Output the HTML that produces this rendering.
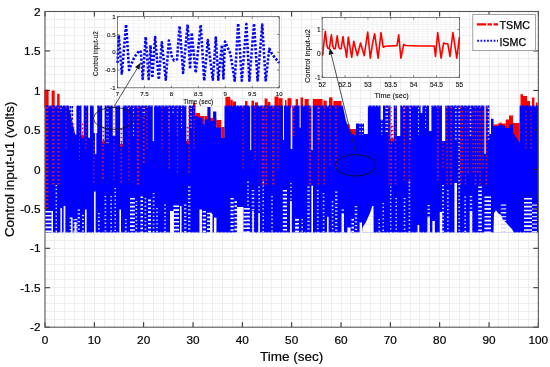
<!DOCTYPE html>
<html><head><meta charset="utf-8"><title>Control input</title>
<style>html,body{margin:0;padding:0;background:#fff;}svg{display:block;}</style>
</head><body>
<svg width="550" height="367" viewBox="0 0 550 367">
<rect width="550" height="367" fill="#fff"/>
<path d="M54.87 11.5V327.2M64.73 11.5V327.2M74.6 11.5V327.2M84.47 11.5V327.2M94.34 11.5V327.2M104.2 11.5V327.2M114.07 11.5V327.2M123.94 11.5V327.2M133.8 11.5V327.2M143.67 11.5V327.2M153.54 11.5V327.2M163.4 11.5V327.2M173.27 11.5V327.2M183.14 11.5V327.2M193 11.5V327.2M202.87 11.5V327.2M212.74 11.5V327.2M222.61 11.5V327.2M232.47 11.5V327.2M242.34 11.5V327.2M252.21 11.5V327.2M262.07 11.5V327.2M271.94 11.5V327.2M281.81 11.5V327.2M291.68 11.5V327.2M301.54 11.5V327.2M311.41 11.5V327.2M321.28 11.5V327.2M331.14 11.5V327.2M341.01 11.5V327.2M350.88 11.5V327.2M360.74 11.5V327.2M370.61 11.5V327.2M380.48 11.5V327.2M390.35 11.5V327.2M400.21 11.5V327.2M410.08 11.5V327.2M419.95 11.5V327.2M429.81 11.5V327.2M439.68 11.5V327.2M449.55 11.5V327.2M459.41 11.5V327.2M469.28 11.5V327.2M479.15 11.5V327.2M489.01 11.5V327.2M498.88 11.5V327.2M508.75 11.5V327.2M518.62 11.5V327.2M528.48 11.5V327.2M45 319.31H538.35M45 311.41H538.35M45 303.52H538.35M45 295.63H538.35M45 287.74H538.35M45 279.84H538.35M45 271.95H538.35M45 264.06H538.35M45 256.17H538.35M45 248.27H538.35M45 240.38H538.35M45 232.49H538.35M45 224.6H538.35M45 216.7H538.35M45 208.81H538.35M45 200.92H538.35M45 193.03H538.35M45 185.13H538.35M45 177.24H538.35M45 169.35H538.35M45 161.46H538.35M45 153.56H538.35M45 145.67H538.35M45 137.78H538.35M45 129.89H538.35M45 121.99H538.35M45 114.1H538.35M45 106.21H538.35M45 98.32H538.35M45 90.43H538.35M45 82.53H538.35M45 74.64H538.35M45 66.75H538.35M45 58.86H538.35M45 50.96H538.35M45 43.07H538.35M45 35.18H538.35M45 27.29H538.35M45 19.39H538.35" stroke="#ececec" stroke-width="0.9" fill="none" shape-rendering="crispEdges"/>
<g fill="#f00"><rect x="44.3" y="89.7" width="4.3" height="17.9"/><rect x="51.6" y="90.5" width="3.1" height="17.1"/><rect x="57.1" y="93.8" width="2.5" height="13.8"/><rect x="193" y="103" width="2.4" height="4.6"/><rect x="225.4" y="96.8" width="4.9" height="10.8"/><rect x="230.3" y="99.8" width="2.4" height="7.8"/><rect x="232.7" y="101.5" width="3.3" height="6.1"/><rect x="245" y="101" width="2.5" height="6.6"/><rect x="251.5" y="100.6" width="2.5" height="7"/><rect x="255" y="102.3" width="3" height="5.3"/><rect x="264.6" y="98.5" width="2.9" height="9.1"/><rect x="267.5" y="102" width="2.9" height="5.6"/><rect x="274.5" y="96.5" width="4" height="11.1"/><rect x="278.5" y="98.2" width="4.1" height="9.4"/><rect x="285" y="100" width="1.5" height="7.6"/><rect x="287.5" y="98.2" width="4" height="9.4"/><rect x="295.6" y="99" width="2.4" height="8.6"/><rect x="300.5" y="97.4" width="2.5" height="10.2"/><rect x="304.6" y="99" width="4.1" height="8.6"/><rect x="312.8" y="99" width="9.8" height="8.6"/><rect x="323.5" y="100.6" width="3.2" height="7"/><rect x="329" y="97.4" width="3.5" height="10.2"/><rect x="333.3" y="101" width="8.2" height="6.6"/><rect x="520.5" y="94.2" width="2.5" height="13.4"/><rect x="523" y="96" width="4" height="11.6"/><rect x="527" y="101" width="3" height="6.6"/><rect x="532" y="97.5" width="2.4" height="10.1"/><rect x="536" y="102.4" width="1.6" height="5.2"/><rect x="195.5" y="113" width="4.5" height="5"/><rect x="200" y="116" width="4.4" height="10"/><rect x="204.5" y="116" width="2.9" height="5"/><rect x="209.5" y="117.8" width="3.5" height="9.2"/><rect x="213.1" y="118" width="3.3" height="8"/><rect x="216.4" y="120" width="4.9" height="15"/><rect x="221.3" y="127" width="3.2" height="18"/><rect x="195.5" y="116" width="3.5" height="6"/><rect x="346.5" y="124" width="3" height="14"/><rect x="349.5" y="129" width="7.7" height="13"/><rect x="493.6" y="124.5" width="3.9" height="3.5"/><rect x="497.5" y="123.5" width="8.2" height="3.5"/><rect x="499.5" y="122.5" width="2" height="2.5"/><rect x="505.7" y="119.5" width="3.3" height="10.5"/><rect x="509" y="115.5" width="4" height="12.5"/><rect x="513" y="123" width="6.6" height="19.5"/></g><g stroke="#f00" stroke-dasharray="1.6 2.4" fill="none"><path d="M82.6 123.54V135.5" stroke-width="1.4"/><path d="M103.4 126.84V141" stroke-width="1.6"/><path d="M107.5 106.6V148" stroke-width="1.4"/><path d="M121.4 128.64V144" stroke-width="1.7"/><path d="M143.7 106.6V120" stroke-width="1.9"/><path d="M169.2 106.6V135" stroke-width="1"/><path d="M177.5 106.6V141" stroke-width="1"/><path d="M187.6 126.84V141" stroke-width="1.6"/><path d="M191.2 106.6V132" stroke-width="1"/><path d="M318.5 106.6V144" stroke-width="1"/><path d="M392.1 125.64V139" stroke-width="2.4"/><path d="M404.3 106.6V132" stroke-width="1.1"/></g><mask id="bm" maskUnits="userSpaceOnUse" x="0" y="0" width="550" height="367"><polygon fill="#fff" points="45,105.6 195.4,105.6 195.5,116 198,116.5 200,117.8 202.5,117.8 202.6,124.5 204.4,124.5 204.5,119.5 207.3,119.5 207.4,107 210.5,107 210.6,121 213,121 213.1,111.5 216.3,111.5 216.4,127.6 221.2,127.6 221.3,138 224.4,138 224.5,105.6 342.8,105.6 345.7,119.5 347.7,126.3 350.4,131.8 352,133.5 355.9,136 356,123.6 364,123.6 364.1,134 367.8,134 367.9,105.6 491,105.6 491.1,118.7 493.5,118.7 493.6,126 497.5,126 500,124.5 505.7,126 505.8,128 509,128 509.1,125 513,124 513.1,132.6 519.5,142.5 519.6,105.6 538.4,105.6 538.4,232.6 45,232.6"/><g fill="#000"><rect x="81.5" y="104.6" width="2.2" height="30.9"/><rect x="88.25" y="104.6" width="1.7" height="33.2"/><rect x="93.75" y="104.6" width="3.5" height="28.4"/><rect x="95.05" y="104.6" width="1.3" height="49.4"/><rect x="102.2" y="104.6" width="2.4" height="36.4"/><rect x="112.75" y="104.6" width="2.5" height="31.4"/><rect x="120.15" y="104.6" width="2.5" height="39.4"/><rect x="152.75" y="104.6" width="1.3" height="36.4"/><rect x="186.4" y="104.6" width="2.4" height="36.4"/><rect x="250.2" y="104.6" width="1" height="45.4"/><rect x="283" y="104.6" width="1" height="35.4"/><rect x="290.7" y="104.6" width="1.6" height="44.4"/><rect x="299.6" y="104.6" width="1" height="23"/><rect x="311.35" y="104.6" width="1.3" height="45.4"/><rect x="380.6" y="104.6" width="2.4" height="14.9"/><rect x="390.5" y="104.6" width="3.2" height="34.4"/><rect x="396.95" y="104.6" width="3.3" height="31.4"/><rect x="420.65" y="104.6" width="1.7" height="8.4"/><rect x="429" y="104.6" width="2.4" height="26.4"/><rect x="441.95" y="104.6" width="3.3" height="36.4"/><rect x="484.45" y="104.6" width="1.3" height="49.4"/><rect x="489.4" y="104.6" width="1.6" height="29.4"/><rect x="51.45" y="211" width="1.5" height="22.6"/><rect x="60.45" y="208" width="1.5" height="25.6"/><rect x="63.65" y="206" width="1.7" height="27.6"/><rect x="71.05" y="217.6" width="1.5" height="16"/><rect x="74.5" y="222" width="2" height="11.6"/><rect x="85" y="209.5" width="1.6" height="24.1"/><rect x="94" y="191.5" width="1.6" height="42.1"/><rect x="119.4" y="209.5" width="1.6" height="24.1"/><rect x="170" y="211" width="4" height="22.6"/><rect x="180.05" y="206" width="1.5" height="27.6"/><rect x="199.45" y="209.5" width="2.5" height="24.1"/><rect x="210.05" y="214" width="2.5" height="19.6"/><rect x="213.95" y="217.6" width="2.5" height="16"/><rect x="236.95" y="207" width="6.5" height="26.6"/><rect x="252.2" y="211" width="1.6" height="22.6"/><rect x="258.25" y="214" width="1.7" height="19.6"/><rect x="290" y="201" width="1.8" height="32.6"/><rect x="311.4" y="185.7" width="1.6" height="47.9"/><rect x="327" y="216.8" width="1.6" height="16.8"/><rect x="341.6" y="214" width="2.4" height="19.6"/><rect x="347.4" y="227.5" width="3.2" height="6.1"/><rect x="359.6" y="222.5" width="2.4" height="11.1"/><rect x="417.55" y="225" width="1.7" height="8.6"/><rect x="427.45" y="217.6" width="2.5" height="16"/><rect x="432.4" y="221" width="2.4" height="12.6"/><rect x="439.75" y="212" width="2.5" height="21.6"/><rect x="454.45" y="183" width="2.5" height="50.6"/><rect x="469.75" y="211" width="2.5" height="22.6"/><polygon points="362,232.8 362.5,227.5 366,222 370,213 372.3,206 373.5,206 373.6,232.8"/><polygon points="493.5,232.8 494,213 496,210.3 498,213 499.3,214 501,215 503,220 506,222.5 509,226 512,229 514,232.8"/><polygon points="68.9,105 68.9,107 71,116 73,124 74.5,131 75.2,134.5 76.4,134.5 76.4,105"/></g><g stroke="#222" fill="none" stroke-dasharray="1.3 2.5"><path d="M61 107.8V112" stroke-width="1"/><path d="M107.5 107.8V144" stroke-width="2"/><path d="M128.5 107.8V111" stroke-width="1"/><path d="M133.5 107.8V136" stroke-width="1.2"/><path d="M143.7 107.8V116" stroke-width="2.5"/><path d="M169.2 107.8V131" stroke-width="1.5"/><path d="M173.2 107.8V113" stroke-width="1.2"/><path d="M177.5 107.8V137" stroke-width="1.2"/><path d="M181.5 107.8V130" stroke-width="1"/><path d="M191.2 107.8V128" stroke-width="1.5"/><path d="M318.5 107.8V140" stroke-width="1.6"/><path d="M360 107.8V135" stroke-width="1.4"/><path d="M362.5 107.8V135" stroke-width="1.4"/><path d="M381.8 107.8V135" stroke-width="1.4"/><path d="M386.7 107.8V132.6" stroke-width="2.5"/><path d="M404.3 107.8V128" stroke-width="1.7"/><path d="M410.1 107.8V141" stroke-width="1.7"/><path d="M418.5 107.8V135" stroke-width="1.2"/><path d="M425.6 107.8V130" stroke-width="1"/><path d="M455.8 107.8V140" stroke-width="1.7"/><path d="M459.2 107.8V232" stroke-width="1.7"/><path d="M470.5 107.8V136" stroke-width="1.7"/><path d="M488.5 107.8V140" stroke-width="1.7"/><path d="M56.3 185V233.6" stroke-width="1.5"/><path d="M70.7 217.6V233.6" stroke-width="2.2"/><path d="M75.5 219V233.6" stroke-width="4"/><path d="M78.8 209.5V233.6" stroke-width="2.4"/><path d="M83 215V233.6" stroke-width="2"/><path d="M98.8 213V233.6" stroke-width="1.7"/><path d="M105.4 196V233.6" stroke-width="1.7"/><path d="M111.2 196V233.6" stroke-width="1.6"/><path d="M115.2 188V233.6" stroke-width="1.6"/><path d="M125.8 219V233.6" stroke-width="1.7"/><path d="M136.4 201V233.6" stroke-width="1.7"/><path d="M145.4 198V233.6" stroke-width="1.7"/><path d="M153.6 193V233.6" stroke-width="1.7"/><path d="M157 208V233.6" stroke-width="1.6"/><path d="M165.1 204.5V233.6" stroke-width="1.7"/><path d="M185.2 204.5V233.6" stroke-width="2.4"/><path d="M189.2 186.5V233.6" stroke-width="2.4"/><path d="M248 181.6V233.6" stroke-width="1.6"/><path d="M253 190V233.6" stroke-width="2.5"/><path d="M259.1 186.5V233.6" stroke-width="1.7"/><path d="M263.2 181.6V233.6" stroke-width="1.6"/><path d="M272 196V233.6" stroke-width="1.6"/><path d="M290.9 183V233.6" stroke-width="1.6"/><path d="M302.2 219V233.6" stroke-width="1.5"/><path d="M308.5 186.5V233.6" stroke-width="2.4"/><path d="M317.8 190V233.6" stroke-width="1.7"/><path d="M323.6 193V233.6" stroke-width="1.7"/><path d="M332.6 201.3V233.6" stroke-width="1.7"/><path d="M336.2 191.5V233.6" stroke-width="2.5"/><path d="M342.8 209.5V233.6" stroke-width="2.4"/><path d="M356 206V233.6" stroke-width="2.5"/><path d="M379.2 219V233.6" stroke-width="1.5"/><path d="M383.2 203V233.6" stroke-width="1.5"/><path d="M390.7 186.5V233.6" stroke-width="1.5"/><path d="M396.2 198V233.6" stroke-width="1.5"/><path d="M404.5 198V233.6" stroke-width="1.7"/><path d="M409.4 181.6V233.6" stroke-width="1.7"/><path d="M428.7 205V233.6" stroke-width="2.5"/><path d="M443 185V233.6" stroke-width="2"/><path d="M447.8 190V233.6" stroke-width="1.7"/><path d="M465.2 196.4V233.6" stroke-width="1.7"/><path d="M471 196V233.6" stroke-width="2.5"/><path d="M503.5 204.5V233.6" stroke-width="5.5"/><path d="M534.5 204.5V233.6" stroke-width="5"/></g><g stroke="#000" fill="none" stroke-dasharray="1.6 2.3"><path d="M47.8 211V233.6" stroke-width="7.5"/><path d="M132.4 198V233.6" stroke-width="4.8"/><path d="M141.7 196.4V233.6" stroke-width="2.5"/><path d="M149.5 199.6V233.6" stroke-width="3"/><path d="M176.2 205.4V233.6" stroke-width="5.8"/><path d="M204.3 211V233.6" stroke-width="3.3"/><path d="M209.3 212.7V233.6" stroke-width="4.7"/><path d="M232.1 198V233.6" stroke-width="3.2"/><path d="M235.7 201.3V233.6" stroke-width="2.5"/><path d="M246.7 208V233.6" stroke-width="6.5"/><path d="M284.9 190V233.6" stroke-width="4.2"/><path d="M296.3 219V233.6" stroke-width="2.6"/><path d="M297 219V233.6" stroke-width="4"/><path d="M352.7 219V233.6" stroke-width="2.5"/><path d="M480 186.5V233.6" stroke-width="3.5"/><path d="M487.7 196.4V233.6" stroke-width="6.5"/><path d="M528 198V233.6" stroke-width="8"/></g><path d="M45 106H538.4" stroke="#000" stroke-width="0.9" stroke-dasharray="1 2.4"/><path d="M45 232.3H538.4" stroke="#000" stroke-width="0.8" stroke-dasharray="1 2.6"/></mask><rect x="45" y="104.6" width="493.4" height="129" fill="#00f" mask="url(#bm)"/><g fill="#f00"><path d="M81.2 138L82.6 133L84 138Z"/><path d="M101.9 143.5L103.4 138.5L104.9 143.5Z"/><path d="M119.85 146.5L121.4 141.5L122.95 146.5Z"/><path d="M186.1 143.5L187.6 138.5L189.1 143.5Z"/><path d="M390.2 141.5L392.1 136.5L394 141.5Z"/></g><g stroke="#00f" stroke-dasharray="2.4 1.4" fill="none"><path d="M70.3 106V116" stroke-width="1.6"/><path d="M72.3 106V121" stroke-width="1.6"/><path d="M79 106V130" stroke-width="2.5"/></g><g stroke="#f22" stroke-dasharray="1.4 2.6" fill="none" opacity="0.85"><path d="M46.4 107V211" stroke-width="4.2"/><path d="M53.3 107V185" stroke-width="2.2"/><path d="M58.4 107V185" stroke-width="2"/><path d="M66 107V150" stroke-width="1.2"/><path d="M79.5 111V160" stroke-width="1.2"/><path d="M86 111V150" stroke-width="1.2"/><path d="M93.8 141V185" stroke-width="1.2"/><path d="M102.8 141V180" stroke-width="2"/><path d="M113.8 107V180" stroke-width="1.2"/><path d="M121.2 145V185" stroke-width="1.5"/><path d="M129 107V180" stroke-width="1.2"/><path d="M138 107V185" stroke-width="2.5"/><path d="M143.7 117V165" stroke-width="2"/><path d="M147 107V150" stroke-width="1.2"/><path d="M162 107V150" stroke-width="1.2"/><path d="M169.2 107V170" stroke-width="1.5"/><path d="M177.5 107V175" stroke-width="1.2"/><path d="M189 107V175" stroke-width="1.5"/><path d="M194 107V150" stroke-width="1.2"/><path d="M263 107V185" stroke-width="2.5"/><path d="M266.3 107V185" stroke-width="1.5"/><path d="M273.3 107V185" stroke-width="2.4"/><path d="M278 107V170" stroke-width="1.2"/><path d="M255 107V160" stroke-width="1.2"/><path d="M243 107V170" stroke-width="1.2"/><path d="M293.2 107V136" stroke-width="2.4"/><path d="M310 107V185" stroke-width="2.4"/><path d="M318.5 107V185" stroke-width="1.6"/><path d="M324.3 107V185" stroke-width="1.6"/><path d="M330 107V165" stroke-width="1.4"/><path d="M336 107V170" stroke-width="1.6"/><path d="M391.2 107V185" stroke-width="1.6"/><path d="M389.2 107V185" stroke-width="1.4"/><path d="M395.5 107V185" stroke-width="1.6"/><path d="M404.3 107V180" stroke-width="1.4"/><path d="M409.4 107V185" stroke-width="1.6"/><path d="M437.8 107V180" stroke-width="1.7"/><path d="M451.1 107V185" stroke-width="1.8"/><path d="M447 107V185" stroke-width="1.4"/><path d="M443 142V170" stroke-width="1.2"/><path d="M460.8 107V185" stroke-width="1.5"/><path d="M465.5 107V185" stroke-width="1.4"/><path d="M475.5 107V185" stroke-width="1.6"/><path d="M480 107V185" stroke-width="1.4"/><path d="M486.5 107V185" stroke-width="1.6"/><path d="M526 111V150" stroke-width="1.2"/><path d="M531 111V150" stroke-width="1.2"/><path d="M72 117V126" stroke-width="1.4"/><path d="M73.8 123V134" stroke-width="1.4"/><path d="M462.5 111V175" stroke-width="1.3"/><path d="M468 111V175" stroke-width="1.3"/><path d="M473 111V175" stroke-width="1.3"/><path d="M478 111V175" stroke-width="1.3"/><path d="M483 111V170" stroke-width="1.3"/></g>
<path d="M45 327.2v-5M45 11.5v5M94.34 327.2v-5M94.34 11.5v5M143.67 327.2v-5M143.67 11.5v5M193 327.2v-5M193 11.5v5M242.34 327.2v-5M242.34 11.5v5M291.68 327.2v-5M291.68 11.5v5M341.01 327.2v-5M341.01 11.5v5M390.35 327.2v-5M390.35 11.5v5M439.68 327.2v-5M439.68 11.5v5M489.01 327.2v-5M489.01 11.5v5M538.35 327.2v-5M538.35 11.5v5M45 327.2h5M538.35 327.2h-5M45 287.74h5M538.35 287.74h-5M45 248.27h5M538.35 248.27h-5M45 208.81h5M538.35 208.81h-5M45 169.35h5M538.35 169.35h-5M45 129.89h5M538.35 129.89h-5M45 90.43h5M538.35 90.43h-5M45 50.96h5M538.35 50.96h-5M45 11.5h5M538.35 11.5h-5" stroke="#262626" stroke-width="1" fill="none"/><rect x="45" y="11.5" width="493.35" height="315.7" fill="none" stroke="#555" stroke-width="1.1"/><g font-family="Liberation Sans, Arial, Helvetica, sans-serif" font-size="11.8" fill="#000" stroke="#000" stroke-width="0.2"><text x="45" y="343.5" text-anchor="middle">0</text><text x="94.34" y="343.5" text-anchor="middle">10</text><text x="143.67" y="343.5" text-anchor="middle">20</text><text x="193" y="343.5" text-anchor="middle">30</text><text x="242.34" y="343.5" text-anchor="middle">40</text><text x="291.68" y="343.5" text-anchor="middle">50</text><text x="341.01" y="343.5" text-anchor="middle">60</text><text x="390.35" y="343.5" text-anchor="middle">70</text><text x="439.68" y="343.5" text-anchor="middle">80</text><text x="489.01" y="343.5" text-anchor="middle">90</text><text x="538.35" y="343.5" text-anchor="middle">100</text><text x="40.5" y="331.4" text-anchor="end">-2</text><text x="40.5" y="291.94" text-anchor="end">-1.5</text><text x="40.5" y="252.47" text-anchor="end">-1</text><text x="40.5" y="213.01" text-anchor="end">-0.5</text><text x="40.5" y="173.55" text-anchor="end">0</text><text x="40.5" y="134.09" text-anchor="end">0.5</text><text x="40.5" y="94.63" text-anchor="end">1</text><text x="40.5" y="55.16" text-anchor="end">1.5</text><text x="40.5" y="15.7" text-anchor="end">2</text></g><text font-family="Liberation Sans, Arial, Helvetica, sans-serif" font-size="13.5" fill="#000" stroke="#000" stroke-width="0.2" x="291.68" y="361" text-anchor="middle">Time (sec)</text><text font-family="Liberation Sans, Arial, Helvetica, sans-serif" font-size="13.4" fill="#000" stroke="#000" stroke-width="0.2" transform="translate(13.8 169.35) rotate(-90)" text-anchor="middle">Control input-u1 (volts)</text>
<rect x="117.5" y="16.7" width="161.7" height="71.1" fill="#fff"/><path d="M122.89 16.7V87.8M128.28 16.7V87.8M133.67 16.7V87.8M139.06 16.7V87.8M144.45 16.7V87.8M149.84 16.7V87.8M155.23 16.7V87.8M160.62 16.7V87.8M166.01 16.7V87.8M171.4 16.7V87.8M176.79 16.7V87.8M182.18 16.7V87.8M187.57 16.7V87.8M192.96 16.7V87.8M198.35 16.7V87.8M203.74 16.7V87.8M209.13 16.7V87.8M214.52 16.7V87.8M219.91 16.7V87.8M225.3 16.7V87.8M230.69 16.7V87.8M236.08 16.7V87.8M241.47 16.7V87.8M246.86 16.7V87.8M252.25 16.7V87.8M257.64 16.7V87.8M263.03 16.7V87.8M268.42 16.7V87.8M273.81 16.7V87.8M117.5 84.25H279.2M117.5 80.69H279.2M117.5 77.14H279.2M117.5 73.58H279.2M117.5 70.03H279.2M117.5 66.47H279.2M117.5 62.92H279.2M117.5 59.36H279.2M117.5 55.81H279.2M117.5 52.25H279.2M117.5 48.7H279.2M117.5 45.14H279.2M117.5 41.59H279.2M117.5 38.03H279.2M117.5 34.48H279.2M117.5 30.92H279.2M117.5 27.37H279.2M117.5 23.81H279.2M117.5 20.26H279.2" stroke="#ececec" stroke-width="0.6" fill="none"/><polyline points="117.5,62.91 118.8,35.19 121.8,73.58 126.1,24.52 129.1,70.03 131,65.05 134,57.94 137,53.32 139.8,50.47 140.9,52.25 142.7,78.91 145.7,36.96 148.7,78.91 150.5,45.14 152.3,77.85 155.1,36.96 158.8,79.62 161.8,42.3 165.8,79.62 168.9,40.52 172,57.58 174,60.43 177,59.36 179.6,25.94 183.1,72.87 187.6,24.52 190.1,68.96 191.7,32.7 195.7,72.87 200.7,24.88 204.2,80.69 207.8,40.16 212.8,79.62 215.8,37.67 218.3,79.62 221.9,45.14 223.4,78.56 225,41.59 230.5,54.03 234.7,80.69 238.2,23.45 241.8,80.69 246.4,24.17 249.4,80.69 254,23.45 257.6,80.33 262.2,24.52 265.7,80.33 269.3,48.7 272,54.03 278,61.49 279.2,62.91" fill="none" stroke="#00f" stroke-width="2.6" stroke-dasharray="2.3 1.7" stroke-linejoin="round"/><path d="M117.5 87.8v-2M117.5 16.7v2M144.45 87.8v-2M144.45 16.7v2M171.4 87.8v-2M171.4 16.7v2M198.35 87.8v-2M198.35 16.7v2M225.3 87.8v-2M225.3 16.7v2M252.25 87.8v-2M252.25 16.7v2M279.2 87.8v-2M279.2 16.7v2M117.5 87.8h2M279.2 87.8h-2M117.5 70.03h2M279.2 70.03h-2M117.5 52.25h2M279.2 52.25h-2M117.5 34.48h2M279.2 34.48h-2M117.5 16.7h2M279.2 16.7h-2" stroke="#333" stroke-width="0.6" fill="none"/><rect x="117.5" y="16.7" width="161.7" height="71.1" fill="none" stroke="#444" stroke-width="0.7"/><g font-family="Liberation Sans, Arial, Helvetica, sans-serif" font-size="6.1" fill="#111" stroke="#111" stroke-width="0.12"><text x="117.5" y="95.6" text-anchor="middle">7</text><text x="144.45" y="95.6" text-anchor="middle">7.5</text><text x="171.4" y="95.6" text-anchor="middle">8</text><text x="198.35" y="95.6" text-anchor="middle">8.5</text><text x="225.3" y="95.6" text-anchor="middle">9</text><text x="252.25" y="95.6" text-anchor="middle">9.5</text><text x="279.2" y="95.6" text-anchor="middle">10</text><text x="115.6" y="90" text-anchor="end">-1</text><text x="115.6" y="72.22" text-anchor="end">-0.5</text><text x="115.6" y="54.45" text-anchor="end">0</text><text x="115.6" y="36.67" text-anchor="end">0.5</text><text x="115.6" y="18.9" text-anchor="end">1</text></g><text font-family="Liberation Sans, Arial, Helvetica, sans-serif" font-size="6.4" fill="#111" stroke="#111" stroke-width="0.12" x="198.3" y="103.6" text-anchor="middle">Time (sec)</text><text font-family="Liberation Sans, Arial, Helvetica, sans-serif" font-size="6.3" fill="#111" stroke="#111" stroke-width="0.12" transform="translate(98.3 53.7) rotate(-90)" text-anchor="middle">Control input-u2</text><rect x="322.2" y="17.4" width="137.2" height="59.9" fill="#fff"/><path d="M326.77 17.4V77.3M331.35 17.4V77.3M335.92 17.4V77.3M340.49 17.4V77.3M345.07 17.4V77.3M349.64 17.4V77.3M354.21 17.4V77.3M358.79 17.4V77.3M363.36 17.4V77.3M367.93 17.4V77.3M372.51 17.4V77.3M377.08 17.4V77.3M381.65 17.4V77.3M386.23 17.4V77.3M390.8 17.4V77.3M395.37 17.4V77.3M399.95 17.4V77.3M404.52 17.4V77.3M409.09 17.4V77.3M413.67 17.4V77.3M418.24 17.4V77.3M422.81 17.4V77.3M427.39 17.4V77.3M431.96 17.4V77.3M436.53 17.4V77.3M441.11 17.4V77.3M445.68 17.4V77.3M450.25 17.4V77.3M454.83 17.4V77.3M322.2 74.9H459.4M322.2 72.51H459.4M322.2 70.11H459.4M322.2 67.72H459.4M322.2 65.32H459.4M322.2 62.92H459.4M322.2 60.53H459.4M322.2 58.13H459.4M322.2 55.74H459.4M322.2 53.34H459.4M322.2 50.94H459.4M322.2 48.55H459.4M322.2 46.15H459.4M322.2 43.76H459.4M322.2 41.36H459.4M322.2 38.96H459.4M322.2 36.57H459.4M322.2 34.17H459.4M322.2 31.78H459.4M322.2 29.38H459.4M322.2 26.98H459.4M322.2 24.59H459.4M322.2 22.19H459.4M322.2 19.8H459.4" stroke="#ececec" stroke-width="0.6" fill="none"/><polyline points="322.5,55.6 325.3,31.2 326.9,45.5 327.8,48.3 329.3,48.6 331.4,34.9 332.8,46 333.8,48.6 335.2,48.8 337.2,35.9 338.6,46.5 339.6,48.8 341.1,48.8 343,36.5 344.3,46.5 345.2,48.3 346.6,57.3 348.3,37.1 351.7,57.3 353.7,41.3 357.4,55.6 360.5,43 364.2,55.6 367.7,32 370.3,58.2 372.5,43.8 374.6,33.7 378.1,58.2 381,32.5 383.2,47.2 385.2,46.2 397,45.6 398.7,34.9 400.9,58.2 403.7,44.3 405.4,45.5 420,46 434.3,46 435.5,56.5 437.7,32.5 441.1,58.2 443.6,43 445.3,43.8 447.8,43.8 450,56.5 452.9,32.5 456.8,58.2 459.4,37.1" fill="none" stroke="#f00" stroke-width="1.6" stroke-linejoin="round"/><path d="M322.2 77.3v-2M322.2 17.4v2M345.07 77.3v-2M345.07 17.4v2M367.93 77.3v-2M367.93 17.4v2M390.8 77.3v-2M390.8 17.4v2M413.67 77.3v-2M413.67 17.4v2M436.53 77.3v-2M436.53 17.4v2M459.4 77.3v-2M459.4 17.4v2M322.2 77.3h2M459.4 77.3h-2M322.2 53.34h2M459.4 53.34h-2M322.2 29.38h2M459.4 29.38h-2" stroke="#333" stroke-width="0.6" fill="none"/><rect x="322.2" y="17.4" width="137.2" height="59.9" fill="none" stroke="#444" stroke-width="0.7"/><g font-family="Liberation Sans, Arial, Helvetica, sans-serif" font-size="6.6" fill="#111" stroke="#111" stroke-width="0.12"><text x="322.2" y="87.3" text-anchor="middle">52</text><text x="345.07" y="87.3" text-anchor="middle">52.5</text><text x="367.93" y="87.3" text-anchor="middle">53</text><text x="390.8" y="87.3" text-anchor="middle">53.5</text><text x="413.67" y="87.3" text-anchor="middle">54</text><text x="436.53" y="87.3" text-anchor="middle">54.5</text><text x="459.4" y="87.3" text-anchor="middle">55</text><text x="320.6" y="79.68" text-anchor="end">-1</text><text x="320.6" y="55.72" text-anchor="end">0</text><text x="320.6" y="31.76" text-anchor="end">1</text></g><text font-family="Liberation Sans, Arial, Helvetica, sans-serif" font-size="7.3" fill="#111" stroke="#111" stroke-width="0.12" x="391.7" y="98.4" text-anchor="middle">Time (sec)</text><text font-family="Liberation Sans, Arial, Helvetica, sans-serif" font-size="7.6" fill="#111" stroke="#111" stroke-width="0.12" transform="translate(310.4 56.1) rotate(-90)" text-anchor="middle">Control input-u2</text>
<ellipse cx="113.6" cy="118.4" rx="20.2" ry="11" fill="none" stroke="#111" stroke-width="0.8"/><ellipse cx="355.6" cy="165.3" rx="20.4" ry="10.8" fill="none" stroke="#111" stroke-width="0.8"/><path d="M113.4 107.6L137.23 68.36" stroke="#262626" stroke-width="0.8" fill="none"/><path d="M140.6 62.8L139.45 69.71L135 67.01Z" fill="#1a1a1a"/><path d="M356 154.5L331.26 54.41" stroke="#262626" stroke-width="0.8" fill="none"/><path d="M329.7 48.1L333.78 53.79L328.74 55.03Z" fill="#1a1a1a"/>
<rect x="472.8" y="14.6" width="62.8" height="36" fill="#fff" stroke="#8c8c8c" stroke-width="0.8"/><path d="M476.9 24.4H486.2M487.5 24.4H491.9M493.5 24.4H498" stroke="#f00" stroke-width="2.4"/><path d="M477.2 40.8H498" stroke="#00f" stroke-width="2" stroke-dasharray="1.7 1.6"/><g font-family="Liberation Sans, Arial, Helvetica, sans-serif" font-size="10.7" fill="#000" stroke="#000" stroke-width="0.25"><text x="499.6" y="28.6">TSMC</text><text x="499.4" y="45.8">ISMC</text></g>
</svg>
</body></html>
